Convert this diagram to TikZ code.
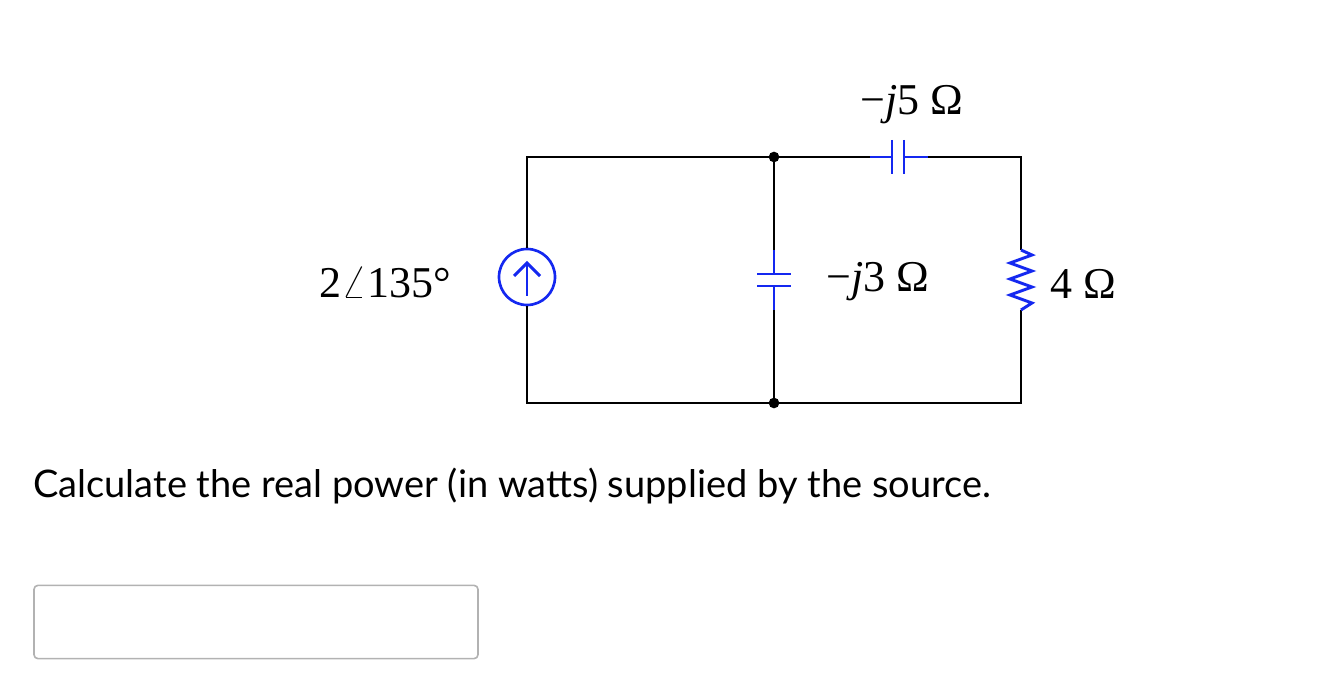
\documentclass[tikz,border=0pt]{standalone}
\usepackage{fontspec}
\setmainfont{Liberation Serif}
\newfontfamily\qfont{Lato}
\usetikzlibrary{calc}
\definecolor{cblue}{RGB}{20,40,240}
\begin{document}
\begin{tikzpicture}[x=0.75pt,y=-0.75pt,
  wire/.style={line width=2.2pt,black},
  comp/.style={line width=2.2pt,cblue},
  lbl/.style={font=\fontsize{33}{36}\selectfont, inner sep=0pt},
  dot/.style={circle,fill=black,inner sep=0pt,minimum size=8pt}]
\useasboundingbox (0,0) rectangle (1338,698);
% nodes
\coordinate (tl) at (527,157); \coordinate (bl) at (527,403);
\node[dot] (tm) at (774,157) {}; \node[dot] (bm) at (774,403) {};
\coordinate (tr) at (1021,157); \coordinate (br) at (1021,403);
\node[circle,draw=cblue,line width=2pt,minimum size=42pt,inner sep=0pt] (src) at (527,277) {};
\coordinate (c1a) at (870,157); \coordinate (c1b) at (928,157);
\coordinate (c2a) at (774,250); \coordinate (c2b) at (774,310);
\coordinate (ra) at (1021,250); \coordinate (rb) at (1021,310);
% wires
\draw[wire] (src.north) -- (tl) -- (tm.center) -- (c1a);
\draw[wire] (c1b) -- (tr) -- (ra);
\draw[wire] (rb) -- (br) -- (bm.center) -- (bl) -- (src.south);
\draw[wire] (tm.center) -- (c2a); \draw[wire] (c2b) -- (bm.center);
% source arrow
\draw[comp] (527,296) -- (527,263);
\draw[comp] (514,276) -- (527,263) -- (540,276);
% top capacitor
\draw[comp] (c1a) -- (892,157) (892,140) -- (892,174) (904,140) -- (904,174) (904,157) -- (c1b);
% middle capacitor
\draw[comp] (c2a) -- (774,274) (757,274) -- (791,274) (757,286) -- (791,286) (774,286) -- (c2b);
% resistor
\draw[comp] (ra) -- (1032,255) -- (1010,263) -- (1032,271) -- (1010,279) -- (1032,287) -- (1010,295) -- (1032,303) -- (rb);
% labels
\node[lbl] (l1) at (912,105) {−\textit{j}5 Ω};
\node[lbl] (l2) at (878,282) {−\textit{j}3 Ω};
\node[lbl] (l3) at (1083,284) {4 Ω};
\node[lbl] (l4) at (385,283) {2$\angle$135°};
\node[anchor=west,inner sep=0pt,font=\qfont\fontsize{28.5}{31}\selectfont] (q) at (33,486) {Calculate the real power (in watts) supplied by the source.};
\node[draw=black!30,line width=1.2pt,rounded corners=3pt,minimum width=333pt,minimum height=55pt,inner sep=0pt] (box) at (256,622) {};
\end{tikzpicture}
\end{document}
